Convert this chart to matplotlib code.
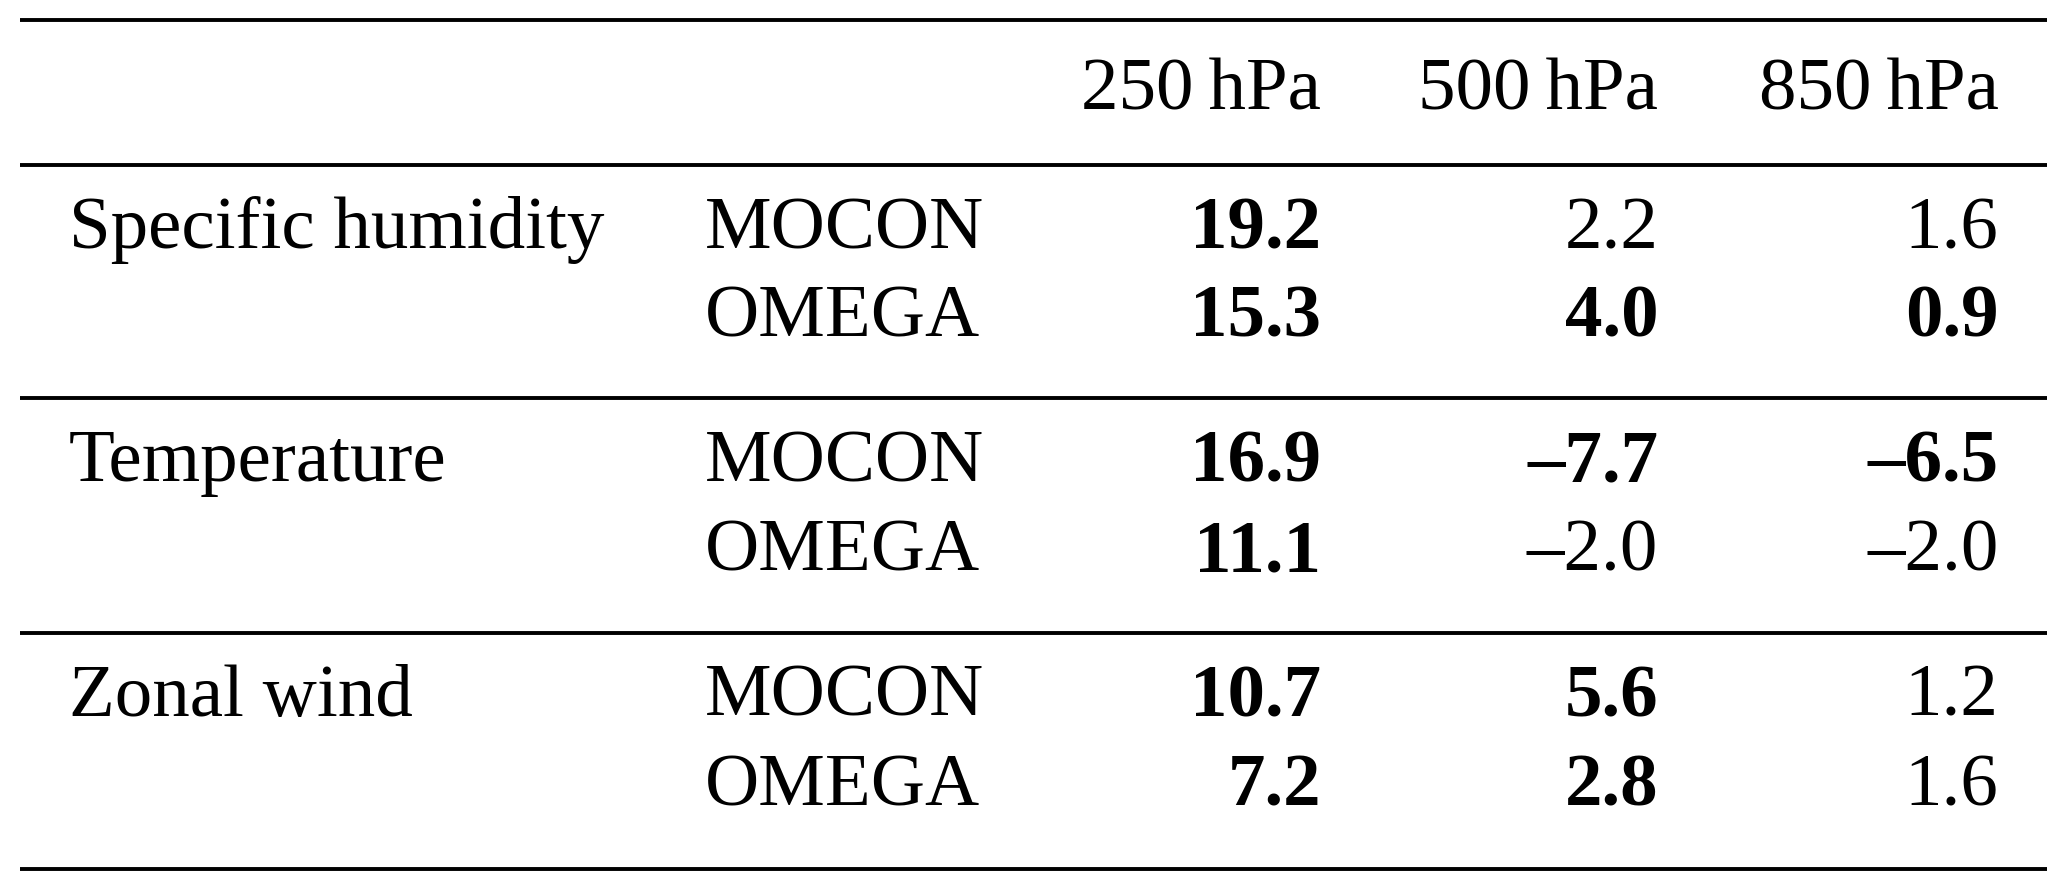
import matplotlib
matplotlib.use("Agg")
import matplotlib.pyplot as plt

levels = ["250\u2009hPa", "500\u2009hPa", "850\u2009hPa"]
variables = ["Specific humidity", "Temperature", "Zonal wind"]
experiments = ["MOCON", "OMEGA"]
values = [
    [[19.2, 2.2, 1.6], [15.3, 4.0, 0.9]],
    [[16.9, -7.7, -6.5], [11.1, -2.0, -2.0]],
    [[10.7, 5.6, 1.2], [7.2, 2.8, 1.6]],
]
bold = [
    [[1, 0, 0], [1, 1, 1]],
    [[1, 1, 1], [1, 0, 0]],
    [[1, 1, 0], [1, 1, 0]],
]

W, H = 2067, 889
fig = plt.figure(figsize=(W / 100, H / 100), dpi=100)
fig.patch.set_facecolor("white")
ax = fig.add_axes([0, 0, 1, 1])
# layout in reference display units (1568 x 675)
ax.set_xlim(0, 1568)
ax.set_ylim(675, 0)
ax.axis("off")

fam = ["Liberation Serif", "DejaVu Serif"]
fs = 54

def rule(y, lw=2.8):
    ax.plot([15, 1553], [y, y], color="black", lw=lw, solid_capstyle="butt")

for y in [15, 125, 302, 481, 660]:
    rule(y)

col_right = [1002, 1258, 1516]
for lvl, x in zip(levels, col_right):
    ax.text(x, 70, lvl, ha="right", va="center", fontsize=fs, family=fam)

row_y = [[175, 242], [352, 420], [530, 598]]
for i, var in enumerate(variables):
    ax.text(52, row_y[i][0], var, ha="left", va="center", fontsize=fs, family=fam)
    for j, ex in enumerate(experiments):
        y = row_y[i][j]
        ax.text(535, y, ex, ha="left", va="center", fontsize=fs, family=fam)
        for k, x in enumerate(col_right):
            v = values[i][j][k]
            s = f"{abs(v):.1f}"
            if v < 0:
                s = "\u2013" + s
            ax.text(x, y, s, ha="right", va="center", fontsize=fs, family=fam,
                    fontweight="bold" if bold[i][j][k] else "normal")

fig.savefig("out.png", dpi=100, facecolor="white")
